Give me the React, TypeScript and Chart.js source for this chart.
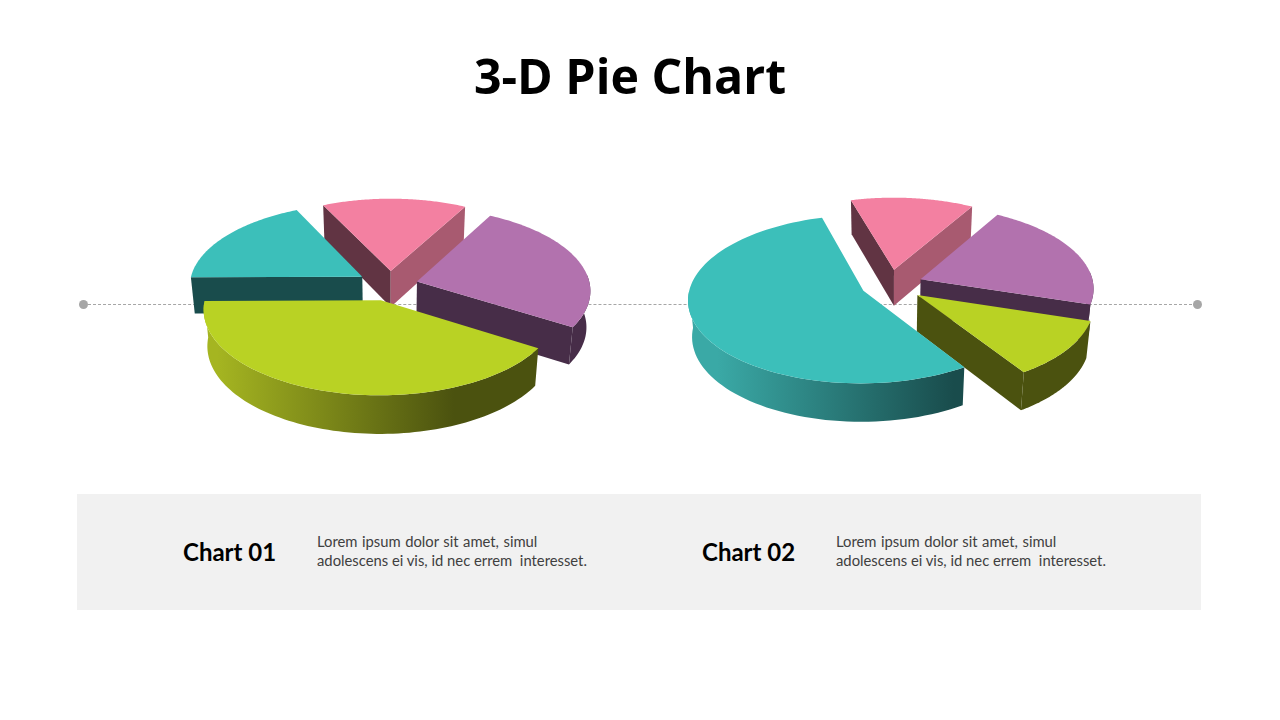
import { useEffect, useRef } from "react";
import { Chart, registerables } from "chart.js";

Chart.register(...registerables);

const sliceLabels = ["Green", "Teal", "Pink", "Purple"];
const chart1Values = [41, 18, 15, 26];
const chart2Values = [11, 54.7, 12.8, 21.5];
const chart1Offsets = [33, 33, 30, 28];
const chart2Offsets = [34, 29, 33, 33];
const chart1DrawOrder = [2, 3, 1, 0];
const chart2DrawOrder = [2, 3, 0, 1];

const topColors = ["#B9D224", "#3CBFBA", "#F380A1", "#B272AE"];
const wallColors = ["#4B520F", "#194C4C", "#613443", "#472D48"];
const litWallColors = ["#4B520F", "#194C4C", "#A85A70", "#472D48"];
const outerLightColors = ["#A5B521", "#3AA9A6", "#A85A70", "#472D48"];

// fake camera for the tilted view
const TILT = 0.475;
const PERSPECTIVE = 0.1;
const DEPTH = 37;
const DEPTH_SHRINK = 0.02;

type Pt = { x: number; y: number };

const pie3d = {
  id: "pie3d",
  beforeDatasetsDraw(chart: any, _args: any, opts: any) {
    const ctx: CanvasRenderingContext2D = chart.ctx;
    const arcs = chart.getDatasetMeta(0).data;
    const order: number[] = opts.order;

    order.forEach((i) => {
      const arc = arcs[i];
      const R: number = arc.outerRadius;
      const mid = (arc.startAngle + arc.endAngle) / 2;
      const off: number = arc.options.offset;
      const ou = Math.cos(mid) * off;
      const ov = Math.sin(mid) * off;
      const cx: number = arc.x;
      const cy: number = arc.y;

      const project = (u: number, v: number, z: number): Pt => {
        const s = 1 / (1 - (PERSPECTIVE * v) / R + DEPTH_SHRINK * z);
        return { x: cx + u * s, y: cy + (TILT * v + DEPTH * z) * s };
      };
      const rim = (t: number, z: number) =>
        project(ou + Math.cos(t) * R, ov + Math.sin(t) * R, z);
      const apex = (z: number) => project(ou, ov, z);

      const fillPoly = (pts: Pt[], fill: string | CanvasGradient) => {
        ctx.beginPath();
        pts.forEach((p, n) => (n ? ctx.lineTo(p.x, p.y) : ctx.moveTo(p.x, p.y)));
        ctx.closePath();
        ctx.fillStyle = fill;
        ctx.fill();
      };
      const wallQuad = (t: number) => [apex(0), rim(t, 0), rim(t, 1), apex(1)];
      const signedArea = (pts: Pt[]) => {
        let sum = 0;
        pts.forEach((p, n) => {
          const q = pts[(n + 1) % pts.length];
          sum += p.x * q.y - q.x * p.y;
        });
        return sum;
      };

      // straight cut walls, only when they face the viewer
      const startWall = wallQuad(arc.startAngle);
      const endWall = wallQuad(arc.endAngle);
      if (signedArea(startWall) < 0) fillPoly(startWall, wallColors[i]);
      if (signedArea(endWall) > 0) fillPoly(endWall, litWallColors[i]);

      // outer curved wall, only the run that faces the viewer
      const grad = ctx.createLinearGradient(cx - R, 0, cx + 0.37 * R, 0);
      grad.addColorStop(0, outerLightColors[i]);
      grad.addColorStop(1, wallColors[i]);
      const steps = 90;
      let run: number[] = [];
      const flush = () => {
        if (run.length > 1) {
          const upper = run.map((t) => rim(t, 0));
          const lower = run.map((t) => rim(t, 1)).reverse();
          fillPoly([...upper, ...lower], grad);
        }
        run = [];
      };
      for (let n = 0; n <= steps; n++) {
        const t = arc.startAngle + ((arc.endAngle - arc.startAngle) * n) / steps;
        if (Math.sin(t) > (Math.cos(t) > 0 ? -0.1 : 0)) run.push(t);
        else flush();
      }
      flush();

      // top face
      const top: Pt[] = [apex(0)];
      for (let n = 0; n <= steps; n++) {
        top.push(rim(arc.startAngle + ((arc.endAngle - arc.startAngle) * n) / steps, 0));
      }
      fillPoly(top, arc.options.backgroundColor);
    });
    return false;
  },
};

interface Pie3DProps {
  values: number[];
  offsets: number[];
  order: number[];
  rotation: number;
  left: number;
  top: number;
}

function Pie3D({ values, offsets, order, rotation, left, top }: Pie3DProps) {
  const chartRef = useRef<HTMLCanvasElement>(null);

  useEffect(() => {
    if (!chartRef.current) return;
    const chart = new Chart(chartRef.current, {
      type: "pie",
      data: {
        labels: sliceLabels,
        datasets: [
          {
            data: values,
            backgroundColor: topColors,
            offset: offsets,
            borderWidth: 0,
          },
        ],
      },
      options: {
        responsive: false,
        animation: false,
        rotation,
        radius: 173,
        events: [],
        plugins: {
          legend: { display: false },
          tooltip: { enabled: false },
          pie3d: { order },
        } as any,
      },
      plugins: [pie3d],
    } as any);
    return () => chart.destroy();
  }, [values, offsets, order, rotation]);

  return (
    <canvas
      ref={chartRef}
      width={500}
      height={320}
      style={{ position: "absolute", left, top, width: 500, height: 320 }}
    />
  );
}

const bodyLines = ["Lorem ipsum dolor sit amet, simul", "adolescens ei vis, id nec errem  interesset."];

function Caption({ title, titleLeft, textLeft }: { title: string; titleLeft: number; textLeft: number }) {
  return (
    <>
      <div
        style={{
          position: "absolute",
          left: titleLeft,
          top: 537,
          fontFamily: "Lato, sans-serif",
          fontWeight: 700,
          fontSize: 24,
          lineHeight: "30px",
          color: "#000",
          whiteSpace: "nowrap",
        }}
      >
        {title}
      </div>
      {bodyLines.map((line, i) => (
        <div
          key={i}
          style={{
            position: "absolute",
            left: textLeft,
            top: 532 + i * 19,
            fontFamily: "Lato, sans-serif",
            fontSize: 14.8,
            lineHeight: "19px",
            wordSpacing: i === 0 ? 0.7 : 0,
            color: "#404040",
            whiteSpace: "pre",
          }}
        >
          {line}
        </div>
      ))}
    </>
  );
}

export default function App() {
  return (
    <div style={{ position: "absolute", left: 0, top: 0, width: 1280, height: 720, background: "#fff", overflow: "hidden" }}>
      <div
        style={{
          position: "absolute",
          left: 0,
          width: 1260,
          top: 44,
          textAlign: "center",
          fontFamily: "'Open Sans', sans-serif",
          fontWeight: 700,
          fontSize: 48.3,
          lineHeight: "62px",
          color: "#000",
        }}
      >
        3-D Pie Chart
      </div>

      <div style={{ position: "absolute", left: 83, width: 1114, top: 304, borderTop: "1px dashed #a6a6a6" }} />
      <div style={{ position: "absolute", left: 79, top: 300, width: 9, height: 9, borderRadius: "50%", background: "#a6a6a6" }} />
      <div style={{ position: "absolute", left: 1193, top: 300, width: 9, height: 9, borderRadius: "50%", background: "#a6a6a6" }} />

      <Pie3D values={chart1Values} offsets={chart1Offsets} order={chart1DrawOrder} rotation={122} left={140} top={125} />
      <Pie3D values={chart2Values} offsets={chart2Offsets} order={chart2DrawOrder} rotation={107.5} left={640} top={125} />

      <div style={{ position: "absolute", left: 77, top: 494, width: 1124, height: 116, background: "#f1f1f1" }} />
      <Caption title="Chart 01" titleLeft={183} textLeft={317} />
      <Caption title="Chart 02" titleLeft={702} textLeft={836} />
    </div>
  );
}
